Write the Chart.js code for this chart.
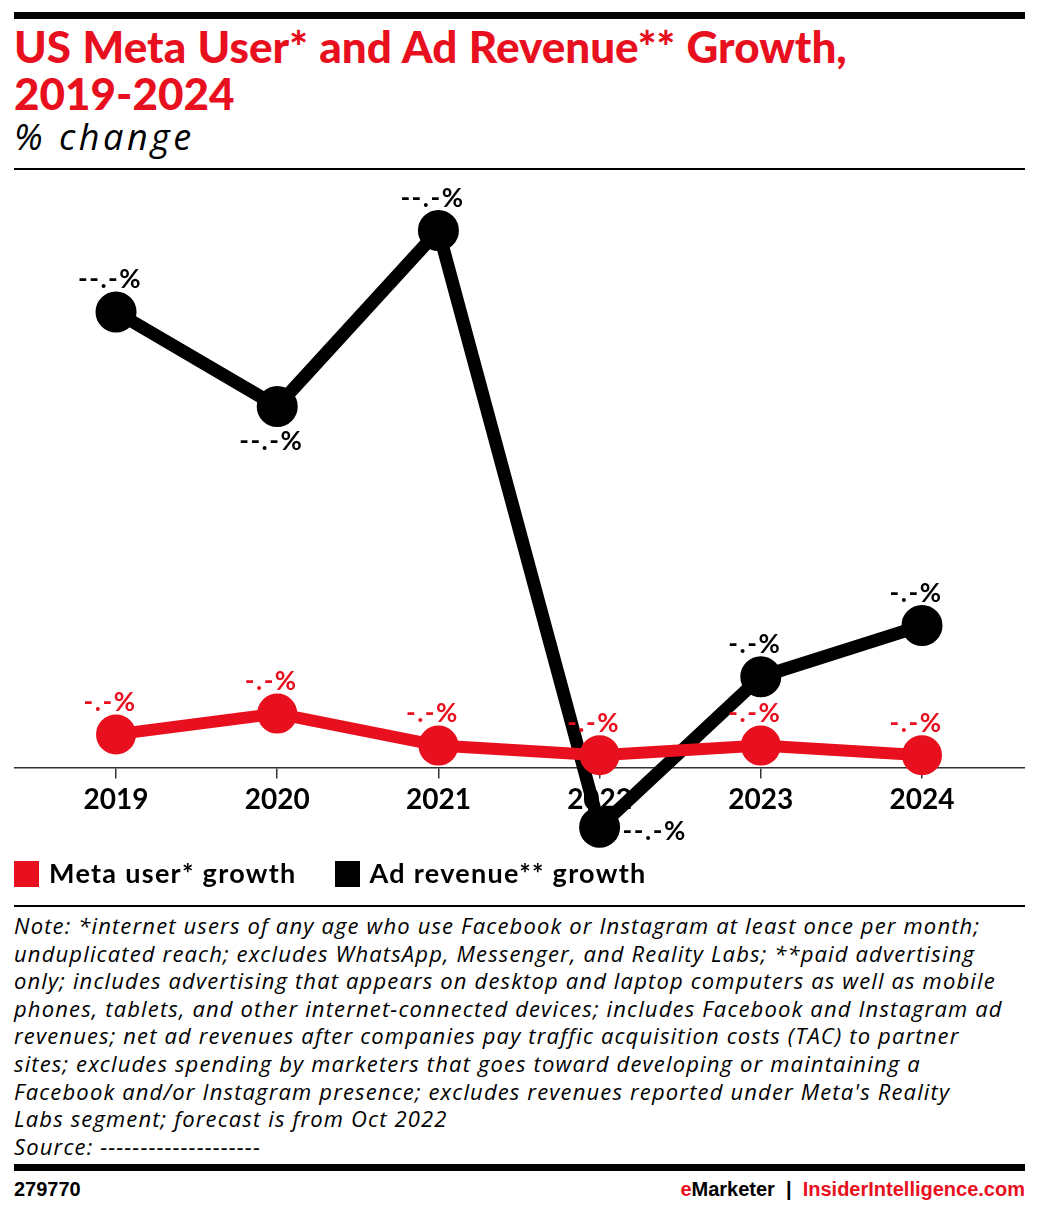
<!DOCTYPE html>
<html>
<head>
<meta charset="utf-8">
<script src="https://cdn.jsdelivr.net/npm/chart.js@4.4.1/dist/chart.umd.min.js"></script>
<style>
	body { margin: 0; background: #fff; }
	#page { position: relative; width: 1038px; height: 1214px; overflow: hidden; font-family: Lato, "Open Sans", sans-serif; color: #000; }
	.bar { position: absolute; left: 14px; width: 1011px; background: #000; }
	h1 { position: absolute; left: 14px; top: 23px; margin: 0; font-size: 44px; line-height: 47px; font-weight: 900; color: #e8101e; word-spacing: 1px; }
	#sub { position: absolute; left: 14px; top: 112px; font-family: "Open Sans", sans-serif; font-size: 36px; font-style: italic; letter-spacing: 3.5px; }
	#chartBox { position: absolute; left: 14px; top: 180px; width: 1011px; height: 680px; }
	#legend { position: absolute; left: 14px; top: 858px; font-size: 27px; font-weight: 700; line-height: 30px; letter-spacing: 1.3px; }
	#legend span.item { display: inline-block; margin-right: 38px; }
	#legend i { display: inline-block; width: 25px; height: 26px; vertical-align: -4px; margin-right: 10px; }
	#note { position: absolute; left: 14px; top: 912px; font-family: "Open Sans", sans-serif; font-size: 22px; line-height: 27.6px; font-style: italic; white-space: nowrap; letter-spacing: 1.15px; }
	#footer { position: absolute; left: 14px; top: 1178px; width: 1011px; font-family: "Liberation Sans", Arial, sans-serif; font-weight: 700; font-size: 20px; }
	#footer .r { position: absolute; right: 0; top: 0; }
	.red { color: #e8101e; }
</style>
</head>
<body>
<div id="page">
	<div class="bar" style="top:12px;height:7px"></div>
	<h1>US Meta User* and Ad Revenue** Growth,<br>2019-2024</h1>
	<div id="sub">% change</div>
	<div class="bar" style="top:168px;height:2px"></div>
	<div id="chartBox"><canvas id="growthChart"></canvas></div>
	<div id="legend"></div>
	<div class="bar" style="top:905px;height:2px"></div>
	<div id="note">Note: *internet users of any age who use Facebook or Instagram at least once per month;<br>unduplicated reach; excludes WhatsApp, Messenger, and Reality Labs; **paid advertising<br>only; includes advertising that appears on desktop and laptop computers as well as mobile<br>phones, tablets, and other internet-connected devices; includes Facebook and Instagram ad<br>revenues; net ad revenues after companies pay traffic acquisition costs (TAC) to partner<br>sites; excludes spending by marketers that goes toward developing or maintaining a<br>Facebook and/or Instagram presence; excludes revenues reported under Meta's Reality<br>Labs segment; forecast is from Oct 2022<br>Source: --------------------</div>
	<div class="bar" style="top:1164px;height:7px"></div>
	<div id="footer">279770<span class="r"><span class="red">e</span>Marketer &nbsp;|&nbsp; <span class="red">InsiderIntelligence.com</span></span></div>
</div>
<script>
	// values (labels are masked in the original)
	var years = ['2019', '2020', '2021', '2022', '2023', '2024'];
	var userGrowth = [2.1, 3.4, 1.4, 0.8, 1.4, 0.8];
	var adRevenueGrowth = [28.5, 22.6, 33.6, -3.7, 5.7, 8.9];
	var seriesNames = ['Meta user* growth', 'Ad revenue** growth'];
	var seriesColors = ['#e8101e', '#000000'];

	var RED = seriesColors[0], BLACK = seriesColors[1];

	function toPoints(values) {
		return values.map(function(v, i) {
			return { x: i, y: v };
		});
	}

	// masked label like the original: every digit becomes a dash
	function maskValue(v) {
		return v.toFixed(1).replace(/\d/g, '-') + '%';
	}

	/* ================= Point labels ================= */

	var pointLabels = {
		id: 'pointLabels',
		afterDatasetsDraw: function(chart) {
			var ctx = chart.ctx;
			ctx.save();
			ctx.font = '700 26px Lato, "Open Sans", sans-serif';
			ctx.letterSpacing = '1.5px';
			ctx.textBaseline = 'middle';
			chart.data.datasets.forEach(function(ds, di) {
				var meta = chart.getDatasetMeta(di);
				meta.data.forEach(function(pt, i) {
					var pos = ds.labelPos[i];
					var text = maskValue(ds.data[i].y);
					var x = pt.x - 6, y = pt.y;
					ctx.textAlign = 'center';
					if (pos === 'above') y -= 32;
					else if (pos === 'below') y += 35;
					else if (pos === 'right') { x = pt.x + 23; ctx.textAlign = 'left'; y += 4; }
					ctx.fillStyle = ds.borderColor;
					ctx.fillText(text, x, y);
				});
			});
			ctx.restore();
		}
	};

	var ctx = document.getElementById('growthChart');
	var growthChart = new Chart(ctx, {
		type: 'line',
		data: {
			datasets: [{
				label: seriesNames[0],
				data: toPoints(userGrowth),
				borderColor: RED,
				backgroundColor: RED,
				borderWidth: 12,
				pointRadius: 14,
				pointHoverRadius: 14,
				labelPos: ['above', 'above', 'above', 'above', 'above', 'above']
			}, {
				label: seriesNames[1],
				data: toPoints(adRevenueGrowth),
				borderColor: BLACK,
				backgroundColor: BLACK,
				borderWidth: 13,
				pointRadius: 14,
				pointHoverRadius: 14,
				labelPos: ['above', 'below', 'above', 'right', 'above', 'above']
			}]
		},
		options: {
			responsive: true,
			maintainAspectRatio: false,
			animation: false,
			layout: { autoPadding: false, padding: { top: 12, bottom: 12, left: 0, right: 0 } },
			plugins: {
				legend: { display: false },
				tooltip: { enabled: false }
			},
			scales: {
				x: {
					type: 'linear',
					min: -0.633,
					max: 5.639,
					position: { y: 0 },
					afterFit: function(scale) { scale.height = 0; },
					afterBuildTicks: function(scale) {
						scale.ticks = years.map(function(y, i) { return { value: i }; });
					},
					border: { display: true, color: '#333', width: 1.5 },
					grid: { drawOnChartArea: false, drawTicks: true, tickLength: 10, color: '#333', lineWidth: 1.5 },
					ticks: {
						padding: 5,
						color: '#000',
						font: { family: 'Lato, "Open Sans", sans-serif', size: 28, weight: '700' },
						maxRotation: 0,
						callback: function(v) { return years[v]; }
					}
				},
				y: {
					display: false,
					min: -5,
					max: 36
				}
			}
		},
		plugins: [pointLabels]
	});

	// legend from the series
	var legendHtml = seriesNames.map(function(name, i) {
		return '<span class="item"><i style="background:' + seriesColors[i] + '"></i>' + name + '</span>';
	}).join('');
	document.getElementById('legend').innerHTML = legendHtml;
</script>
</body>
</html>
